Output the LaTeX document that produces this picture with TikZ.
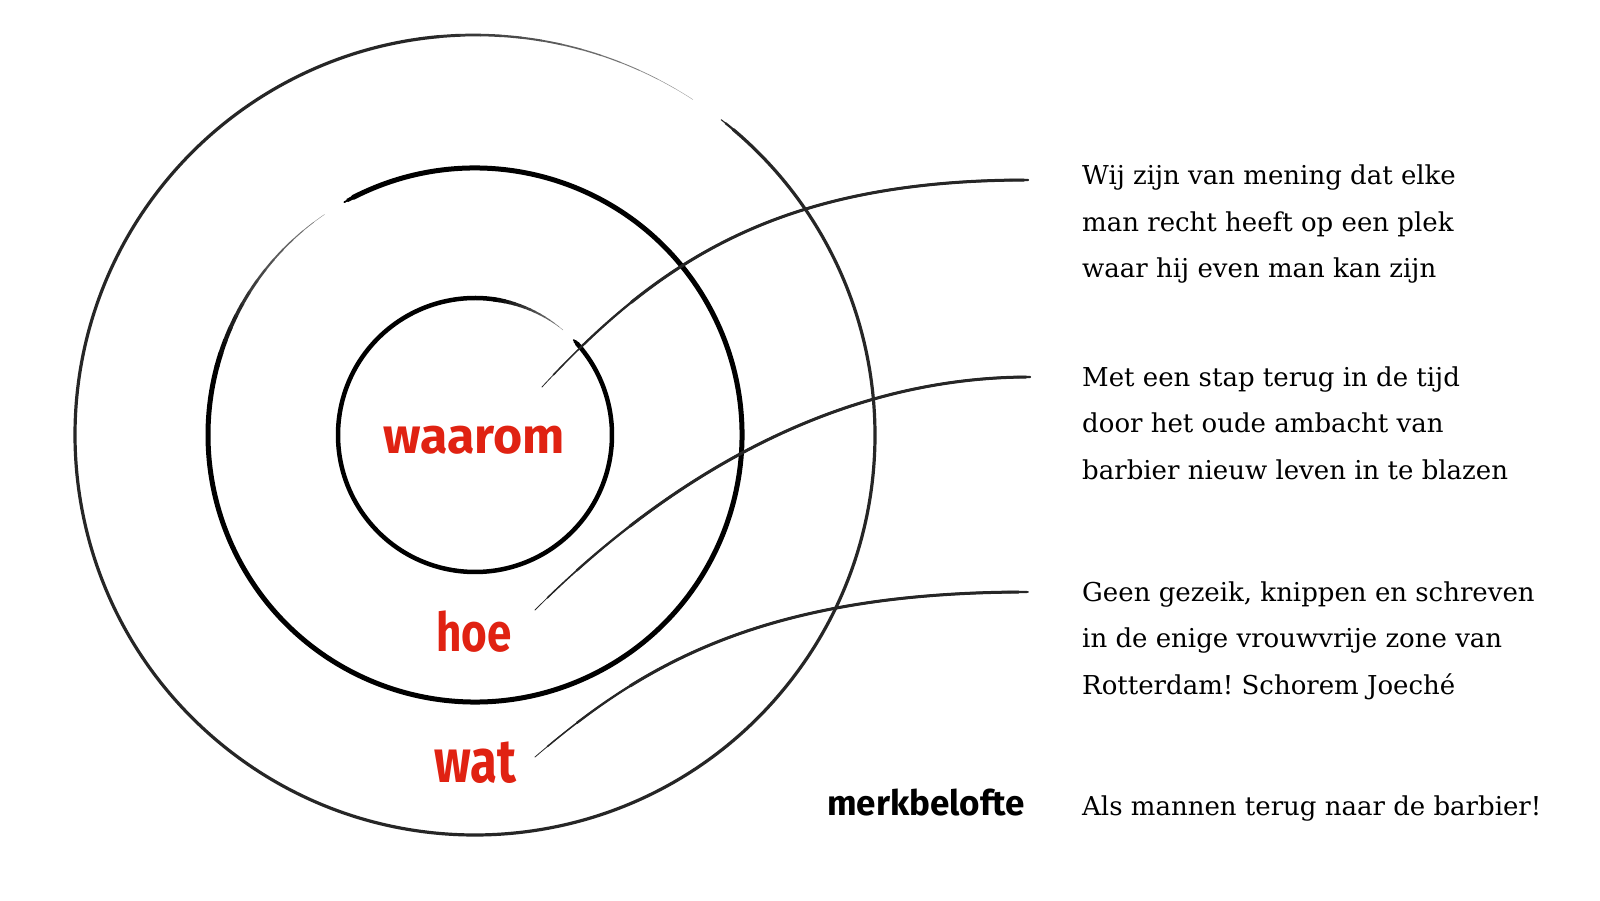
\documentclass[tikz,border=0pt]{standalone}
\usepackage{fontspec}
\usepackage{graphicx}
\setmainfont{DejaVu Serif}
\newfontfamily\handfont{Fira Sans}
\definecolor{lblred}{RGB}{224,34,18}
\colorlet{outercol}{black!85}
\colorlet{conncol}{black!85}
\frenchspacing
\tikzset{
  bodytext/.style={anchor=base west, inner sep=0pt, text=black,
    font=\fontsize{26}{31}\selectfont},
  lbl/.style={anchor=base, inner sep=0pt, text=lblred},
  conn/.style={draw=conncol, line cap=round},
}
% tapered arc: #1 centre, #2 radius, #3 start, #4 fade start, #5 end, #6 width, #7 colour name
\newcommand\taperarc[7]{%
  \pgfmathsetmacro\tA{#3-0.8}\pgfmathsetmacro\tB{#3-2.2}%
  \pgfmathsetmacro\wA{0.35*#6}\pgfmathsetmacro\wB{0.7*#6}%
  \draw[line width=\wA pt, draw=#7, line cap=round] (#1) ++(#3:#2) arc[start angle=#3, end angle=\tA, radius=#2];
  \draw[line width=\wB pt, draw=#7, line cap=round] (#1) ++(\tA:#2) arc[start angle=\tA, end angle=\tB, radius=#2];
  \draw[line width=#6 pt, draw=#7, line cap=round] (#1) ++(\tB:#2) arc[start angle=\tB, end angle=#4, radius=#2];
  \foreach \k in {0,...,13} {
    \pgfmathsetmacro\aS{#4+(#5-#4)*\k/14}
    \pgfmathsetmacro\aE{#4+(#5-#4)*(\k+1)/14}
    \pgfmathsetmacro\wk{max(#6*(1-\k/14),0.35)}
    \pgfmathtruncatemacro\ck{100-4*\k}
    \draw[line width=\wk pt, draw=#7!\ck!white, line cap=round] (#1) ++(\aS:#2) arc[start angle=\aS, end angle=\aE, radius=#2];
  }
}
% tapered connector: #1 start, #2 ctrl1, #3 ctrl2, #4 end, #5 approx length
\newcommand\myconn[5]{%
  \draw[conn, line width=0.8pt] (#1) .. controls (#2) and (#3) .. (#4);
  \foreach \w/\s/\e in {1.5/0.03/0.995, 2.3/0.10/0.985, 3.0/0.22/0.97} {
    \pgfmathsetmacro\segA{(\e-\s)*#5}
    \pgfmathsetmacro\segP{3000+\segA-\s*#5}
    \draw[conn, line width=\w pt, dash pattern=on \segA pt off 3000pt, dash phase=\segP pt]
      (#1) .. controls (#2) and (#3) .. (#4);
  }
}
\begin{document}
\begin{tikzpicture}[x=1pt,y=1pt]
\useasboundingbox (0,0) rectangle (1600,900);
\fill[white] (0,0) rectangle (1600,900);

\coordinate (C) at (475,465);

% circles
\taperarc{C}{400}{52}{-262}{-303}{3.2}{outercol}
\taperarc{C}{267}{119.3}{-195}{-235.7}{5}{black}
\taperarc{C}{137}{44}{-278}{-310}{4.5}{black}

% connector end points
\coordinate (c1s) at (542,513);
\coordinate (c1a) at (660,640);
\coordinate (c1b) at (780,720);
\coordinate (c1e) at (1028,720);
\coordinate (c2s) at (535,290);
\coordinate (c2a) at (650,405);
\coordinate (c2b) at (820,523);
\coordinate (c2e) at (1030,523);
\coordinate (c3s) at (535,143);
\coordinate (c3a) at (640,233);
\coordinate (c3b) at (760,308);
\coordinate (c3e) at (1028,308);

\myconn{c1s}{c1a}{c1b}{c1e}{560}
\myconn{c2s}{c2a}{c2b}{c2e}{575}
\myconn{c3s}{c3a}{c3b}{c3e}{540}

% labels
\node[lbl, font=\handfont\bfseries\fontsize{50}{60}\selectfont] (waarom) at (474,446) {waarom};
\node[lbl, font=\handfont\bfseries\fontsize{44}{54}\selectfont] (hoe) at (474,249) {\scalebox{1}[1.22]{hoe}};
\node[lbl, font=\handfont\bfseries\fontsize{49}{60}\selectfont] (wat) at (475,118) {\scalebox{1}[1.25]{wat}};
\node[lbl, text=black, font=\handfont\bfseries\fontsize{35}{44}\selectfont] (merk) at (926,85) {merkbelofte};

% texts
\node[bodytext] (t1a) at (1082,715) {Wij zijn van mening dat elke};
\node[bodytext] (t1b) at (1082,668.5) {man recht heeft op een plek};
\node[bodytext] (t1c) at (1082,622) {waar hij even man kan zijn};

\node[bodytext] (t2a) at (1082,513.3) {Met een stap terug in de tijd};
\node[bodytext] (t2b) at (1082,467) {door het oude ambacht van};
\node[bodytext] (t2c) at (1082,420.5) {barbier nieuw leven in te blazen};

\node[bodytext] (t3a) at (1082,298.3) {Geen gezeik, knippen en schreven};
\node[bodytext] (t3b) at (1082,252) {in de enige vrouwvrije zone van};
\node[bodytext] (t3c) at (1082,205.5) {Rotterdam! Schorem Joeché};

\node[bodytext] (t4) at (1082,85) {Als mannen terug naar de barbier!};
\end{tikzpicture}
\end{document}
